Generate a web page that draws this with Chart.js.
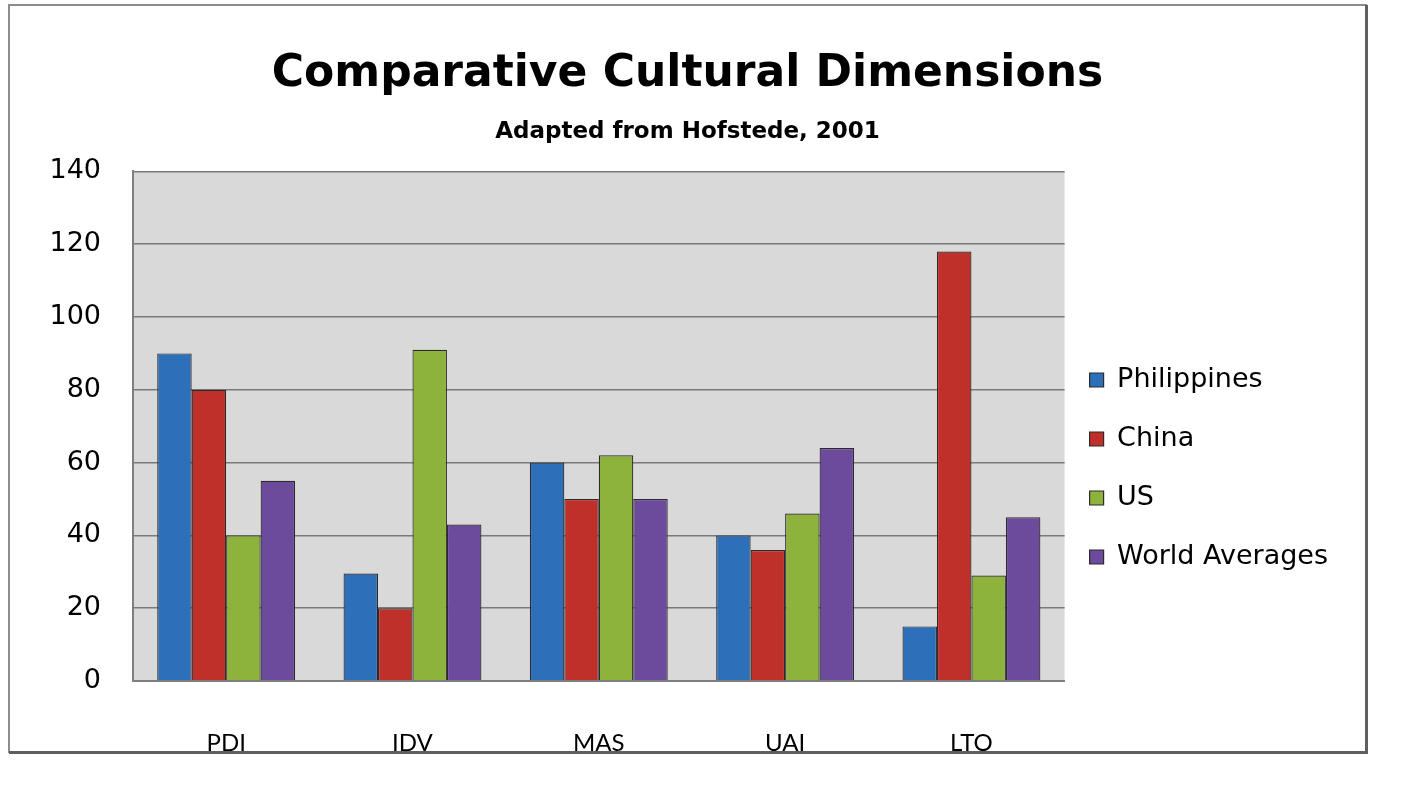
<!DOCTYPE html>
<html>
<head>
<meta charset="utf-8">
<script src="https://cdn.jsdelivr.net/npm/chart.js@4/dist/chart.umd.min.js"></script>
<style>
  body { margin: 0; background: #fff; }
  #wrap { width: 1407px; height: 785px; position: relative; }
</style>
</head>
<body>
<div id="wrap"><canvas id="chart"></canvas></div>
<script>
// Hofstede dimensions
const dimensions = ['PDI', 'IDV', 'MAS', 'UAI', 'LTO'];
const philippines = [90, 29.5, 60, 40, 15];
const china = [80, 20, 50, 36, 118];
const us = [40, 91, 62, 46, 29];
const worldAvg = [55, 43, 50, 64, 45];
const yTicks = [0, 20, 40, 60, 80, 100, 120, 140];

const WIDE = '"DejaVu Sans", sans-serif';
const NARROW = 'Lato, "Open Sans", sans-serif';

// grey plot background + outer frame
const frame = {
    id: 'frame',
    beforeDraw(chart) {
        const { ctx, chartArea: a } = chart;
        ctx.save();
        ctx.fillStyle = '#fff';
        ctx.fillRect(0, 0, chart.width, chart.height);
        ctx.strokeStyle = '#8c8c8c';
        ctx.lineWidth = 2;
        ctx.strokeRect(9, 5, 1357, 747);
        ctx.strokeStyle = '#5f5f5f';
        ctx.lineWidth = 3;
        ctx.beginPath();
        ctx.moveTo(9, 752.5);
        ctx.lineTo(1366.5, 752.5);
        ctx.lineTo(1366.5, 5);
        ctx.stroke();
        ctx.fillStyle = '#d9d9d9';
        ctx.fillRect(a.left, a.top, a.right - a.left, a.bottom - a.top);
        ctx.restore();
    },
    // nudge the legend closer to the plot and lower, like the original
    afterLayout(chart) {
        const lg = chart.legend;
        lg.left -= 7; lg.right -= 7;
        lg.top += 52; lg.bottom += 52;
    }
};

function ds(label, data, color) {
    return {
        label, data,
        backgroundColor: color,
        borderColor: '#2b2b2b',
        borderWidth: 1.2,
        categoryPercentage: 0.74,
        barPercentage: 1
    };
}

new Chart(document.getElementById('chart'), {
    type: 'bar',
    data: {
        labels: dimensions,
        datasets: [
            ds('Philippines', philippines, '#2e6fb9'),
            ds('China', china, '#c0302b'),
            ds('US', us, '#8db33c'),
            ds('World Averages', worldAvg, '#6c4a9c')
        ]
    },
    options: {
        responsive: true,
        maintainAspectRatio: false,
        animation: false,
        layout: { padding: { left: 30, right: 62, top: 48, bottom: 0 } },
        plugins: {
            title: {
                display: true,
                text: 'Comparative Cultural Dimensions',
                color: '#000',
                font: { family: WIDE, size: 44, weight: 'bold' },
                padding: { top: 0, bottom: 17 }
            },
            subtitle: {
                display: true,
                text: 'Adapted from Hofstede, 2001',
                color: '#000',
                font: { family: WIDE, size: 23, weight: 'bold' },
                padding: { top: 0, bottom: 26 }
            },
            legend: {
                position: 'right',
                labels: {
                    color: '#000',
                    font: { family: WIDE, size: 27 },
                    boxWidth: 14,
                    boxHeight: 14,
                    padding: 32
                }
            },
            tooltip: { enabled: false }
        },
        scales: {
            x: {
                afterFit: s => { s.height = 104; },
                grid: { display: false, drawTicks: false },
                border: { color: '#7f7f7f', width: 2 },
                ticks: { color: '#000', font: { family: NARROW, size: 24 }, padding: 48 }
            },
            y: {
                min: 0,
                max: 140,
                afterBuildTicks: s => { s.ticks = yTicks.map(v => ({ value: v })); },
                afterFit: s => { s.width = 103; },
                grid: { color: '#7a7a7a', lineWidth: 1.5, drawTicks: false },
                border: { color: '#7f7f7f', width: 2 },
                ticks: { color: '#000', font: { family: WIDE, size: 27 }, padding: 32 }
            }
        }
    },
    plugins: [frame]
});
</script>
</body>
</html>
